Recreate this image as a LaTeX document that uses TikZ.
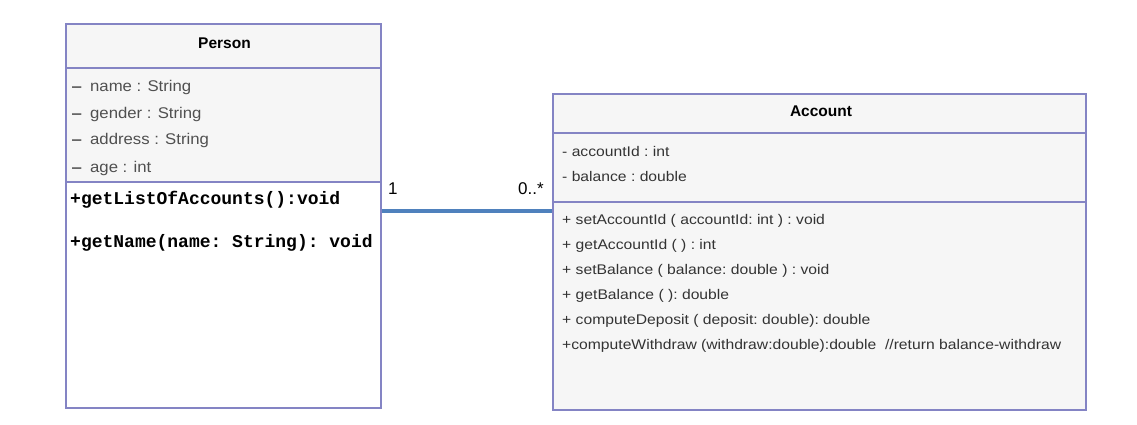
\documentclass[tikz,border=0pt]{standalone}
\usepackage{fontspec}
\setmainfont{Liberation Sans}
\newfontfamily\monof{Liberation Mono}
\newfontfamily\widea[FakeStretch=1.12]{Liberation Sans}
\newfontfamily\wideb[FakeStretch=1.08]{Liberation Sans}
\definecolor{boxline}{HTML}{8484C4}
\definecolor{boxfill}{HTML}{F6F6F6}
\definecolor{attrgray}{HTML}{505050}
\definecolor{txtgray}{HTML}{333333}
\definecolor{assocblue}{HTML}{4F81BD}
\tikzset{
  classbox/.style={draw=boxline, line width=2pt, fill=boxfill, inner sep=0pt},
  sepline/.style={draw=boxline, line width=2pt},
  title/.style={font=\fontsize{15.5}{18}\selectfont\bfseries, text=black, inner sep=0pt},
  pattr/.style={font=\wideb\fontsize{15.5}{18}\selectfont, text=attrgray, anchor=base west, inner sep=0pt},
  pmeth/.style={font=\monof\fontsize{18}{20}\selectfont\bfseries\frenchspacing, text=black, anchor=base west, inner sep=0pt},
  aitem/.style={font=\widea\fontsize{14}{17}\selectfont\frenchspacing, text=txtgray, anchor=base west, inner sep=0pt},
  mult/.style={font=\fontsize{17}{20}\selectfont, text=black, anchor=base west, inner sep=0pt},
  assoc/.style={draw=assocblue, line width=3.2pt}
}
\begin{document}
\begin{tikzpicture}[x=1pt,y=-1pt]
\useasboundingbox[fill=white] (0,0) rectangle (1137,425);
% Person
\node[classbox, minimum width=315pt, minimum height=384pt] (person) at (223.5,216) {};
\fill[white] (67,183) rectangle (380,407);
\draw[sepline] (66,68) -- (381,68);
\draw[sepline] (66,182) -- (381,182);
\draw[draw=boxline, line width=2pt] (66,24) rectangle (381,408);
\node[title] (ptitle) at (224.5,43) {Person};
\node[pattr] (pa1) at (72,92) {\textcolor{black}{–}\hspace{4pt} name : String};
\node[pattr] (pa2) at (72,119) {\textcolor{black}{–}\hspace{4pt} gender : String};
\node[pattr] (pa3) at (72,145) {\textcolor{black}{–}\hspace{4pt} address : String};
\node[pattr] (pa4) at (72,172) {\textcolor{black}{–}\hspace{4pt} age : int};
\node[pmeth] (pm1) at (70,204) {+getListOfAccounts():void};
\node[pmeth] (pm2) at (70,247) {+getName(name: String): void};
% Account
\node[classbox, minimum width=533pt, minimum height=316pt] (account) at (819.5,252) {};
\draw[sepline] (553,133) -- (1086,133);
\draw[sepline] (553,202) -- (1086,202);
\node[title] (atitle) at (821,111) {Account};
\node[aitem] (aa1) at (562,156) {- accountId : int};
\node[aitem] (aa2) at (562,181) {- balance : double};
\node[aitem] (am1) at (562,224) {+ setAccountId ( accountId: int ) : void};
\node[aitem] (am2) at (562,249) {+ getAccountId ( ) : int};
\node[aitem] (am3) at (562,274) {+ setBalance ( balance: double ) : void};
\node[aitem] (am4) at (562,299) {+ getBalance ( ): double};
\node[aitem] (am5) at (562,324) {+ computeDeposit ( deposit: double): double};
\node[aitem] (am6) at (562,349) {+computeWithdraw (withdraw:double):double \ //return balance-withdraw};
% association
\coordinate (assocy) at (0,211);
\draw[assoc] (person.east |- assocy) -- (account.west |- assocy);
\node[mult] (m1) at (388,194) {1};
\node[mult] (m2) at (518,194) {0..*};
\end{tikzpicture}
\end{document}
